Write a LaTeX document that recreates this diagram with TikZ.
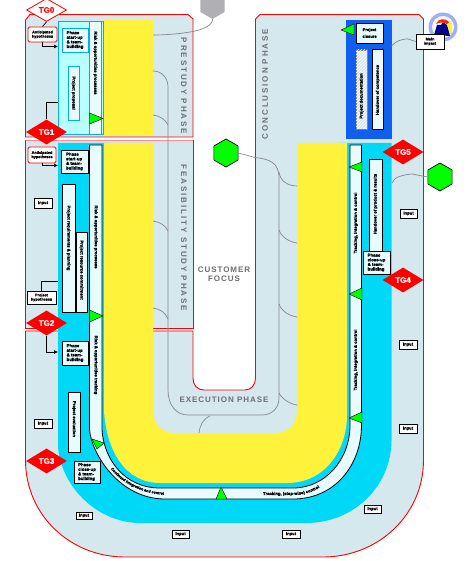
\documentclass[tikz,border=0pt]{standalone}
\usepackage{fontspec}
\setmainfont[BoldFeatures={FakeBold=1.2}]{Liberation Sans}
\newfontfamily\phasefont[LetterSpace=12]{Liberation Sans}
\newfontfamily\phasefontwide[LetterSpace=24]{Liberation Sans}
\usetikzlibrary{shapes.geometric,decorations.text,arrows.meta,patterns}
\definecolor{regionblue}{HTML}{D5E8EE}
\definecolor{ringcyan}{HTML}{00D8F8}
\definecolor{ringyellow}{HTML}{FFF23A}
\definecolor{closeblue}{HTML}{0F5FF0}
\definecolor{palefill}{HTML}{E8FBFF}
\definecolor{paleregion}{HTML}{B8FFFF}
\definecolor{phasegrey}{HTML}{6E6E72}
\definecolor{linkgrey}{HTML}{85888C}
\definecolor{hexgrey}{HTML}{B0B0B4}
\tikzset{
  x=1pt,y=-1pt,
  region/.style={fill=regionblue,draw=red,line width=0.9pt},
  box/.style={draw=black,line width=0.8pt,fill=palefill,inner sep=0pt},
  paleBox/.style={draw=cyan,line width=0.8pt,fill=palefill,inner sep=0pt},
  phasebox/.style={box,font=\fontsize{4.3}{4.6}\selectfont\bfseries,align=left},
  paleTitle/.style={paleBox,font=\fontsize{4.3}{4.6}\selectfont\bfseries,align=left},
  bandtext/.style={font=\fontsize{4.2}{5}\selectfont\bfseries,inner sep=0pt},
  docbox/.style={draw=red,line width=0.8pt,fill=white,rounded corners=1.5pt,inner sep=0pt,font=\fontsize{3.8}{4.2}\selectfont\bfseries,align=center},
  outbox/.style={draw=black,line width=0.7pt,fill=white,inner sep=0pt,font=\fontsize{3.8}{4.2}\selectfont\bfseries,align=center},
  tagbox/.style={draw=black,line width=0.7pt,fill=white,inner sep=0pt,font=\fontsize{4.2}{4.2}\selectfont\bfseries},
  gateOpen/.style={diamond,draw=red,line width=0.8pt,fill=white,text=red,minimum width=40pt,minimum height=23pt,inner sep=0pt,font=\fontsize{8}{8}\selectfont\bfseries},
  gateRed/.style={diamond,fill=red,text=white,minimum width=41pt,minimum height=25pt,inner sep=0pt,font=\fontsize{8}{8}\selectfont\bfseries},
  hexa/.style={regular polygon,regular polygon sides=6,shape border rotate=30,minimum size=28pt,inner sep=0pt},
  greenmark/.style={fill=green,draw=black,line width=0.4pt},
  link/.style={draw=black,line width=0.7pt},
  linkarrow/.style={link,-{Latex[length=4pt,width=4pt]}},
  greylink/.style={draw=linkgrey,line width=0.7pt},
  phaselabel/.style={text=phasegrey,font=\phasefont\fontsize{8}{9}\selectfont\bfseries,inner sep=0pt,align=center},
  phaselabelwide/.style={text=phasegrey,font=\phasefontwide\fontsize{8}{9}\selectfont\bfseries,inner sep=0pt,align=center},
}
\newcommand{\bx}[7][box]{\node[#1,minimum width={(#4-#2)*1pt},minimum height={(#5-#3)*1pt},#7] (#6) at ({(#2+#4)/2},{(#3+#5)/2}) {};}
\newcommand{\bxt}[7][box]{\node[#1,minimum width={(#4-#2)*1pt},minimum height={(#5-#3)*1pt}] (#6) at ({(#2+#4)/2},{(#3+#5)/2}) {#7};}
\begin{document}
\begin{tikzpicture}
\clip (0,0) rectangle (470,561);
\useasboundingbox (0,0) rectangle (470,561);
\fill[white] (0,0) rectangle (470,561);

% Regions
\path[region] (25.5,20) -- (30,14.5) -- (188,14.5) -- (193,19) -- (193,137) -- (25.5,137) -- cycle;
\path[region] (25.5,140.5) rectangle (193,328);
\draw[red!45,line width=0.9pt] (25.5,140.5) -- (193,140.5);
\path[region] (25.5,331) -- (193,331) -- (193,378) .. controls (193,385) and (197,390) .. (204,390)
  -- (245,390) .. controls (251,390) and (255.5,385) .. (255.5,378) -- (255.5,19) -- (260,14.5)
  -- (419,14.5) -- (423.5,19) -- (423.5,460) .. controls (423.5,515) and (378,557) .. (323,557)
  -- (125,557) .. controls (70,557) and (25.5,515) .. (25.5,460) -- cycle;

% Ring
\fill[ringcyan] (58,143) -- (58,447) .. controls (62,490) and (100,523) .. (140,523) -- (306,523)
  .. controls (355,523) and (391.5,485) .. (391.5,440) -- (391.5,143) -- (340,143) -- (325,445) -- (125,445) -- (110,143) -- cycle;
\fill[ringyellow] (104,143) -- (104,410) .. controls (106,450) and (125,483) .. (160,483) -- (287,483)
  .. controls (325,483) and (347,450) .. (347,415) -- (347,143) -- (297,143) -- (297,410)
  .. controls (297,425) and (288,433) .. (275,433) -- (175,433) .. controls (162,433) and (153,425) .. (153,410)
  -- (153,143) -- cycle;
\fill[ringyellow] (104,20) rectangle (153,135);
\path[fill=palefill,draw=black,line width=0.8pt] (89.5,145) -- (89.5,430) .. controls (92,455) and (120,499) .. (165,499)
  -- (293,499) .. controls (335,499) and (361.5,465) .. (361.5,425) -- (361.5,145) -- (350,145) -- (350,425)
  .. controls (350,460) and (325,488) .. (293,488) -- (160,488) .. controls (125,488) and (104,460) .. (102,430)
  -- (102,145) -- cycle;
\path[draw=none,postaction={decorate,decoration={text along path,raise=-1.5pt,text align=left,
  text={|\fontsize{3.7}{5}\selectfont\bfseries|Continued integration and control}}}]
  (112,468) .. controls (124,483) and (145,493.5) .. (170,493.5) -- (215,493.5);
\path[draw=none,postaction={decorate,decoration={text along path,raise=-1.5pt,text align=left,
  text={|\fontsize{4.2}{5}\selectfont\bfseries|Tracking, (step-wise) control}}}]
  (263,493.5) -- (293,493.5) .. controls (312,493.5) and (326,484) .. (336,470);

% Prestudy column
\path[draw=cyan,fill=paleregion,line width=0.8pt] (58.3,21) rectangle (103,134);
\bx[paleBox]{89.5}{21}{101.5}{134}{preBand}{}
\bxt[paleTitle]{62}{28}{88}{52}{prePhase}{Phase\\start-up\\\& team-\\building}
\bx[paleBox]{68}{66}{79}{120}{preProject}{}
\node[bandtext,rotate=-90] (preProjectText) at (preProject.center) {Project proposal};
\node[bandtext,rotate=-90] (preBandText) at (95.3,63) {Risk \& opportunities processes};
\draw[greenmark] (89.5,113) -- (103,118.5) -- (89.5,124) -- cycle;

% Feasibility column
\bxt[phasebox]{61}{150}{88}{173}{feaPhase}{Phase\\start-up\\\& team-\\building}
\bx{62}{184}{75}{312}{feaTall}{}
\node[bandtext,rotate=-90] (feaTallText) at (68.5,238) {Project requirements \& planning};
\bx{76}{232}{87}{312}{feaShort}{}
\node[bandtext,rotate=-90] (feaShortText) at (81.5,270) {Project resource commitment};
\node[bandtext,rotate=-90] (feaBandText) at (95.8,237) {Risk \& opportunities processes};
\node[bandtext,rotate=-90] (exeBandText) at (95.8,365) {Risk \& opportunities tracking};
\draw[greenmark] (89.5,310) -- (103,316) -- (89.5,322) -- cycle;

% Execution column
\bxt[phasebox]{62}{341}{88}{365}{exePhase}{Phase\\start-up\\\& team-\\building}
\bx{68}{392}{80}{452}{exeEval}{}
\node[bandtext,rotate=-90] (exeEvalText) at (74,419) {Project evaluation};
\bxt[phasebox]{74}{461}{100}{483}{exeClose}{Phase\\close-up\\\& team-\\building}
\draw[greenmark] (92,439) -- (104,443) -- (97,449) -- cycle;
\draw[greenmark] (216,499) -- (221,487) -- (227,499) -- cycle;
\draw[greenmark] (362,412) -- (349,418) -- (362,423) -- cycle;
\draw[greenmark] (362,288) -- (349,294) -- (362,300) -- cycle;
\draw[greenmark] (362,162) -- (349,167) -- (362,172) -- cycle;
\node[bandtext,rotate=90] (trackA) at (355.8,223) {Tracking, integration \& control};
\node[bandtext,rotate=90] (trackB) at (355.8,360) {Tracking, integration \& control};
\bx{369}{159}{382}{251}{conTall}{}
\node[bandtext,rotate=90] (conTallText) at (375.5,204) {Handover of product \& results};
\bxt[phasebox]{363}{251}{390}{274}{conPhase}{Phase\\close-up\\\& team-\\building}

% Conclusion column
\fill[closeblue] (346,20) rectangle (391.5,139);
\draw[greenmark] (354,24) -- (341,30) -- (354,35) -- cycle;
\bxt[box]{356}{23}{383}{43}{closure}{\fontsize{4}{4.4}\selectfont\bfseries\shortstack{Project\\closure}}
\path[fill=regionblue,draw=gray,line width=0.8pt] (356,50) rectangle (367,129);
\path[pattern=north east lines,pattern color=white] (356,50) rectangle (367,129);
\node[bandtext,rotate=90] (closeDocText) at (361.5,96) {Project documentation};
\bx{372}{49}{383.5}{129}{closeRight}{}
\node[bandtext,rotate=90] (closeRightText) at (377.7,90) {Handover of competence};

% Grey links
\node[hexa,fill=hexgrey] (hexTop) at (212.5,5) {};
\node[hexa,fill=green,draw=black,line width=0.7pt] (hexMid) at (226,153) {};
\node[hexa,fill=green,draw=black,line width=0.7pt] (hexRight) at (440,177) {};
\coordinate (preEndA) at (153,35);
\coordinate (preEndB) at (153,71);
\coordinate (preEndC) at (153,115);
\coordinate (feaEndA) at (153,221);
\coordinate (feaEndB) at (153,308);
\coordinate (conEndA) at (297,186);
\coordinate (conEndB) at (297,243);
\coordinate (conEndC) at (297,317);
\coordinate (conEndD) at (297,405);
\coordinate (exeEnd) at (199,433);
\coordinate (closeEnd) at (391.5,46);
\coordinate (hexEnd) at (392,183);
\draw[greylink] (hexTop.south) .. controls (213,25) and (203,30) .. (190,32) .. controls (178,34) and (165,35) .. (preEndA);
\draw[greylink] (hexMid.east) -- (255,157.5) .. controls (270,159) and (279,163) .. (279,178)
  -- (279,398) .. controls (279,408) and (272,415) .. (262,415) -- (188,415)
  .. controls (176,415) and (168,405) .. (168,390) -- (168,87) .. controls (168,78) and (162,71) .. (preEndB);
\draw[greylink] (preEndC) .. controls (160,116) and (165,119) .. (168,125);
\draw[greylink] (feaEndA) .. controls (160,222) and (165,225) .. (168,231);
\draw[greylink] (feaEndB) .. controls (160,309) and (165,312) .. (168,319);
\draw[greylink] (279,172) .. controls (280,181) and (288,186) .. (conEndA);
\draw[greylink] (279,230) .. controls (282,238) and (290,242) .. (conEndB);
\draw[greylink] (279,304) .. controls (282,312) and (290,316) .. (conEndC);
\draw[greylink] (279,393) .. controls (282,399) and (290,404) .. (conEndD);
\draw[greylink] (210,416) .. controls (203,419) and (200,425) .. (exeEnd);
\draw[greylink] (hexRight.west) -- (412,174) .. controls (402,175) and (394,177) .. (hexEnd);

% Icon
\fill[blue!25!regionblue] (443,27) circle (14.5);
\fill[white!70!regionblue] (443,27) circle (11);
\fill[yellow!80!white] (448,21) rectangle (452,34);
\fill[blue!55!black] (434,35) -- (437,25) -- (441,25) -- (443,22) -- (447,25) -- (450,36) -- cycle;
\fill[red!70!orange] (436,24) .. controls (438,18) and (446,18) .. (449,22) -- (447,24) .. controls (444,22) and (440,22) .. cycle;

% Boxes with connectors
\bxt[outbox]{416}{34}{444}{49}{impact}{Main\\impact}
\draw[greylink] (impact.west) -- (408,39) .. controls (400,39) and (395,42) .. (closeEnd);

\node[gateOpen] (TG0) at (46.5,10) {TG0};
\node[gateRed] (TG1) at (46.5,132) {TG1};
\node[gateRed] (TG2) at (46.5,323) {TG2};
\node[gateRed] (TG3) at (46.5,461) {TG3};
\node[gateRed] (TG5) at (403,152) {TG5};
\node[gateRed] (TG4) at (403,280) {TG4};
\bxt[docbox]{28}{27}{57}{42}{docA}{Anticipated\\hypotheses}
\bxt[docbox]{28}{147}{56}{163}{docB}{Anticipated\\hypotheses}
\bxt[outbox]{27}{291}{56}{304}{docC}{Project\\hypotheses}
\coordinate (inA) at (58,46.5);
\coordinate (inB) at (58,165.5);
\coordinate (inC) at (58,281);
\coordinate (inD) at (58,352);
\coordinate (inE) at (58,102);
\draw[link] (TG0.south) -- (docA.north);
\draw[linkarrow] (docA.south) |- (inA);
\draw[link] (TG1.north) |- (inE);
\draw[linkarrow] (docB.south) |- (inB);
\draw[link] (docC.north) |- (inC);
\draw[linkarrow] (TG2.south) |- (inD);

% Tags
\bxt[tagbox]{34}{198}{52}{208}{tagA}{Input}
\bxt[tagbox]{34}{419}{52}{428}{tagB}{Input}
\bxt[tagbox]{76}{512}{92}{519}{tagC}{Input}
\bxt[tagbox]{172}{530}{189}{538}{tagD}{Input}
\bxt[tagbox]{282}{530}{300}{538}{tagE}{Input}
\bxt[tagbox]{364}{505}{381}{513}{tagF}{Input}
\bxt[tagbox]{399}{424}{417}{433}{tagG}{Input}
\bxt[tagbox]{399}{340}{417}{349}{tagH}{Input}
\bxt[tagbox]{400}{209}{417}{218}{tagI}{Input}

% Phase labels
\node[phaselabelwide,rotate=-90] (prestudy) at (184,86) {PRESTUDY PHASE};
\node[phaselabelwide,rotate=-90] (feasibility) at (184,238) {FEASIBILITY STUDY PHASE};
\node[phaselabelwide,rotate=90] (conclusion) at (265,84) {CONCLUSION PHASE};
\node[phaselabel] (customer) at (224,270) {CUSTOMER};
\node[phaselabel] (focus) at (224,279) {FOCUS};
\node[phaselabel] (execution) at (224,400) {EXECUTION PHASE};
\end{tikzpicture}
\end{document}
